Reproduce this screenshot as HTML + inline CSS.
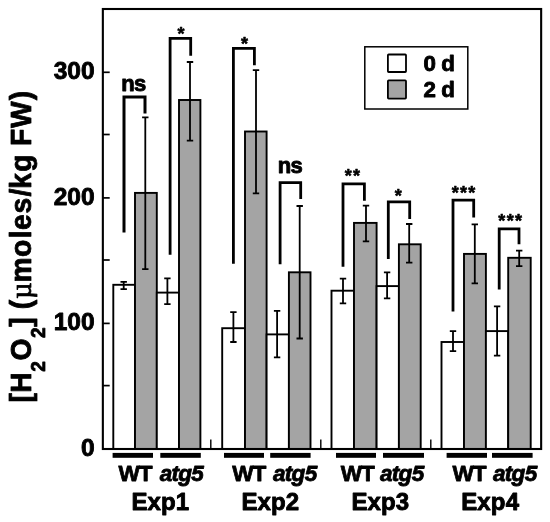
<!DOCTYPE html>
<html><head><meta charset="utf-8"><title>H2O2 chart</title>
<style>
html,body{margin:0;padding:0;background:#fff;}
svg{display:block;}
text{font-family:"Liberation Sans",sans-serif;font-weight:bold;fill:#000;stroke:#000;stroke-width:0.45px;stroke-linejoin:round;}
.i{font-style:italic;}
</style></head><body>
<svg width="550" height="522" viewBox="0 0 550 522">
<rect width="550" height="522" fill="#fff"/>
<rect x="113.3" y="284.8" width="21.7" height="164.2" fill="#fff" stroke="#000" stroke-width="1.9"/>
<rect x="135.0" y="192.9" width="21.8" height="256.1" fill="#a4a4a4" stroke="#000" stroke-width="1.9"/>
<rect x="156.8" y="292.6" width="22.2" height="156.4" fill="#fff" stroke="#000" stroke-width="1.9"/>
<rect x="179.0" y="100.0" width="21.4" height="349.0" fill="#a4a4a4" stroke="#000" stroke-width="1.9"/>
<rect x="222.2" y="328.2" width="22.8" height="120.8" fill="#fff" stroke="#000" stroke-width="1.9"/>
<rect x="245.0" y="131.5" width="21.6" height="317.5" fill="#a4a4a4" stroke="#000" stroke-width="1.9"/>
<rect x="266.6" y="334.4" width="22.3" height="114.6" fill="#fff" stroke="#000" stroke-width="1.9"/>
<rect x="288.9" y="272.3" width="21.6" height="176.7" fill="#a4a4a4" stroke="#000" stroke-width="1.9"/>
<rect x="331.5" y="290.7" width="22.5" height="158.3" fill="#fff" stroke="#000" stroke-width="1.9"/>
<rect x="354.0" y="222.9" width="22.6" height="226.1" fill="#a4a4a4" stroke="#000" stroke-width="1.9"/>
<rect x="376.6" y="286.1" width="22.3" height="162.9" fill="#fff" stroke="#000" stroke-width="1.9"/>
<rect x="398.9" y="244.3" width="21.8" height="204.7" fill="#a4a4a4" stroke="#000" stroke-width="1.9"/>
<rect x="441.5" y="342.0" width="22.5" height="107.0" fill="#fff" stroke="#000" stroke-width="1.9"/>
<rect x="464.0" y="253.9" width="21.9" height="195.1" fill="#a4a4a4" stroke="#000" stroke-width="1.9"/>
<rect x="485.9" y="331.1" width="22.3" height="117.9" fill="#fff" stroke="#000" stroke-width="1.9"/>
<rect x="508.2" y="257.8" width="22.5" height="191.2" fill="#a4a4a4" stroke="#000" stroke-width="1.9"/>
<path d="M123.7 281.9V289.2M120.5 281.9H126.9M120.5 289.2H126.9" stroke="#000" stroke-width="1.8" fill="none"/>
<path d="M145.3 117.3V269.2M142.1 117.3H148.5M142.1 269.2H148.5" stroke="#000" stroke-width="1.8" fill="none"/>
<path d="M167.4 278.4V304.1M164.2 278.4H170.6M164.2 304.1H170.6" stroke="#000" stroke-width="1.8" fill="none"/>
<path d="M190.0 62.0V140.7M186.8 62.0H193.2M186.8 140.7H193.2" stroke="#000" stroke-width="1.8" fill="none"/>
<path d="M233.4 312.1V342.0M230.2 312.1H236.6M230.2 342.0H236.6" stroke="#000" stroke-width="1.8" fill="none"/>
<path d="M256.0 70.1V193.3M252.8 70.1H259.2M252.8 193.3H259.2" stroke="#000" stroke-width="1.8" fill="none"/>
<path d="M277.1 310.9V357.4M273.9 310.9H280.3M273.9 357.4H280.3" stroke="#000" stroke-width="1.8" fill="none"/>
<path d="M299.7 206.0V338.5M296.5 206.0H302.9M296.5 338.5H302.9" stroke="#000" stroke-width="1.8" fill="none"/>
<path d="M343.0 278.7V303.3M339.8 278.7H346.2M339.8 303.3H346.2" stroke="#000" stroke-width="1.8" fill="none"/>
<path d="M366.0 205.6V241.3M362.8 205.6H369.2M362.8 241.3H369.2" stroke="#000" stroke-width="1.8" fill="none"/>
<path d="M387.1 272.3V298.3M383.9 272.3H390.3M383.9 298.3H390.3" stroke="#000" stroke-width="1.8" fill="none"/>
<path d="M409.2 224.0V262.6M406.0 224.0H412.4M406.0 262.6H412.4" stroke="#000" stroke-width="1.8" fill="none"/>
<path d="M453.0 331.1V351.1M449.8 331.1H456.2M449.8 351.1H456.2" stroke="#000" stroke-width="1.8" fill="none"/>
<path d="M474.8 224.3V283.3M471.6 224.3H478.0M471.6 283.3H478.0" stroke="#000" stroke-width="1.8" fill="none"/>
<path d="M497.1 306.3V355.7M493.9 306.3H500.3M493.9 355.7H500.3" stroke="#000" stroke-width="1.8" fill="none"/>
<path d="M519.2 250.7V266.1M516.0 250.7H522.4M516.0 266.1H522.4" stroke="#000" stroke-width="1.8" fill="none"/>
<rect x="102.85" y="9" width="438.3" height="440" fill="none" stroke="#000" stroke-width="2.1"/>
<path d="M103 385.6H109.7" stroke="#000" stroke-width="1.7"/>
<path d="M103 323.4H109.7" stroke="#000" stroke-width="1.7"/>
<path d="M103 260.0H109.7" stroke="#000" stroke-width="1.7"/>
<path d="M103 197.9H109.7" stroke="#000" stroke-width="1.7"/>
<path d="M103 134.5H109.7" stroke="#000" stroke-width="1.7"/>
<path d="M103 72.3H109.7" stroke="#000" stroke-width="1.7"/>
<path d="M210.8 449V439.6" stroke="#000" stroke-width="1.4"/>
<path d="M320.8 449V439.6" stroke="#000" stroke-width="1.4"/>
<path d="M430.8 449V439.6" stroke="#000" stroke-width="1.4"/>
<path d="M124.0 232.5V97.0H145.0V113.6" stroke="#000" stroke-width="3.0" fill="none"/>
<path d="M170.1 254.8V38.4H190.7V55.7" stroke="#000" stroke-width="2.8" fill="none"/>
<path d="M233.4 263.8V48.3H254.4V65.3" stroke="#000" stroke-width="2.8" fill="none"/>
<path d="M280.1 264.3V182.6H300.7V199.1" stroke="#000" stroke-width="2.8" fill="none"/>
<path d="M343.0 266.7V183.9H364.4V200.7" stroke="#000" stroke-width="2.8" fill="none"/>
<path d="M388.3 259.0V201.9H409.7V219.0" stroke="#000" stroke-width="2.8" fill="none"/>
<path d="M453.0 311.4V200.1H473.7V217.6" stroke="#000" stroke-width="2.8" fill="none"/>
<path d="M499.2 289.6V228.9H519.0V244.3" stroke="#000" stroke-width="2.8" fill="none"/>
<text x="133.5" y="90.7" font-size="22" text-anchor="middle" letter-spacing="-0.6" style="stroke-width:0.9px">ns</text>
<text x="181.6" y="39.7" font-size="18" text-anchor="middle" letter-spacing="1.3" style="stroke-width:0.6px">*</text>
<text x="245.2" y="49.7" font-size="18" text-anchor="middle" letter-spacing="1.3" style="stroke-width:0.6px">*</text>
<text x="290.0" y="172.7" font-size="22" text-anchor="middle" letter-spacing="-0.6" style="stroke-width:0.9px">ns</text>
<text x="353.0" y="181.7" font-size="18" text-anchor="middle" letter-spacing="1.3" style="stroke-width:0.6px">**</text>
<text x="398.8" y="201.7" font-size="18" text-anchor="middle" letter-spacing="1.3" style="stroke-width:0.6px">*</text>
<text x="464.2" y="198.7" font-size="18" text-anchor="middle" letter-spacing="1.3" style="stroke-width:0.6px">***</text>
<text x="510.8" y="226.7" font-size="18" text-anchor="middle" letter-spacing="1.3" style="stroke-width:0.6px">***</text>
<text x="94.6" y="455.9" font-size="24.5" text-anchor="end" style="stroke-width:0.9px">0</text>
<text x="94.6" y="330.4" font-size="24.5" text-anchor="end" style="stroke-width:0.9px">100</text>
<text x="94.6" y="204.9" font-size="24.5" text-anchor="end" style="stroke-width:0.9px">200</text>
<text x="94.6" y="79.3" font-size="24.5" text-anchor="end" style="stroke-width:0.9px">300</text>
<rect x="364.8" y="46.8" width="103.0" height="62.2" fill="#fff" stroke="#000" stroke-width="1.5"/>
<rect x="387.9" y="54.5" width="18.1" height="17.5" rx="0.8" fill="#fff" stroke="#000" stroke-width="1.8"/>
<rect x="387.9" y="80.4" width="18.1" height="18.2" rx="0.8" fill="#a4a4a4" stroke="#000" stroke-width="1.8"/>
<text x="423.5" y="70.8" font-size="22.3" letter-spacing="-0.4" style="stroke-width:0.9px">0 d</text>
<text x="423.5" y="96.8" font-size="22.3" letter-spacing="-0.4" style="stroke-width:0.9px">2 d</text>
<rect x="112.6" y="452.9" width="40.4" height="4.9" fill="#000"/>
<rect x="160.3" y="452.9" width="40.5" height="4.9" fill="#000"/>
<rect x="224" y="452.9" width="40.0" height="4.9" fill="#000"/>
<rect x="270.2" y="452.9" width="40.4" height="4.9" fill="#000"/>
<rect x="336" y="452.9" width="40.0" height="4.9" fill="#000"/>
<rect x="383" y="452.9" width="41.0" height="4.9" fill="#000"/>
<rect x="446.6" y="452.9" width="40.4" height="4.9" fill="#000"/>
<rect x="492" y="452.9" width="40.6" height="4.9" fill="#000"/>
<text x="118.5" y="481" font-size="22.6" letter-spacing="-1.1" style="stroke-width:0.8px">WT</text>
<text x="159.7" y="481" font-size="22.5" class="i" letter-spacing="-0.7" style="stroke-width:0.8px">atg5</text>
<text x="131.4" y="509.6" font-size="24" letter-spacing="0.15" style="stroke-width:0.9px">Exp1</text>
<text x="232.2" y="481" font-size="22.6" letter-spacing="-1.1" style="stroke-width:0.8px">WT</text>
<text x="273.0" y="481" font-size="22.5" class="i" letter-spacing="-0.7" style="stroke-width:0.8px">atg5</text>
<text x="241.4" y="509.6" font-size="24" letter-spacing="0.15" style="stroke-width:0.9px">Exp2</text>
<text x="340.7" y="481" font-size="22.6" letter-spacing="-1.1" style="stroke-width:0.8px">WT</text>
<text x="380.0" y="481" font-size="22.5" class="i" letter-spacing="-0.7" style="stroke-width:0.8px">atg5</text>
<text x="351.4" y="509.6" font-size="24" letter-spacing="0.15" style="stroke-width:0.9px">Exp3</text>
<text x="452.6" y="481" font-size="22.6" letter-spacing="-1.1" style="stroke-width:0.8px">WT</text>
<text x="493.0" y="481" font-size="22.5" class="i" letter-spacing="-0.7" style="stroke-width:0.8px">atg5</text>
<text x="461.2" y="509.6" font-size="24" letter-spacing="0.15" style="stroke-width:0.9px">Exp4</text>
<text transform="translate(31.3,402.0) rotate(-90) scale(0.957,1)" font-size="29.5" style="stroke-width:0.8px"><tspan x="-0.44 9.73" y="0">[H</tspan><tspan x="31.69" y="13.4" font-size="20">2</tspan><tspan x="43.35" y="0">O</tspan><tspan x="66.96" y="13.4" font-size="20">2</tspan><tspan x="78.70 86.70 96.88" y="0">] (</tspan><tspan x="107.81" y="0" style="font-family:'Liberation Serif',serif;font-weight:normal;stroke-width:0.8px">µ</tspan><tspan x="124.86 151.54 171.20 179.76 196.90 214.71 222.78 240.54 248.54 267.40 286.23 315.24" y="0">moles/kg FW)</tspan></text>
</svg>
</body></html>
